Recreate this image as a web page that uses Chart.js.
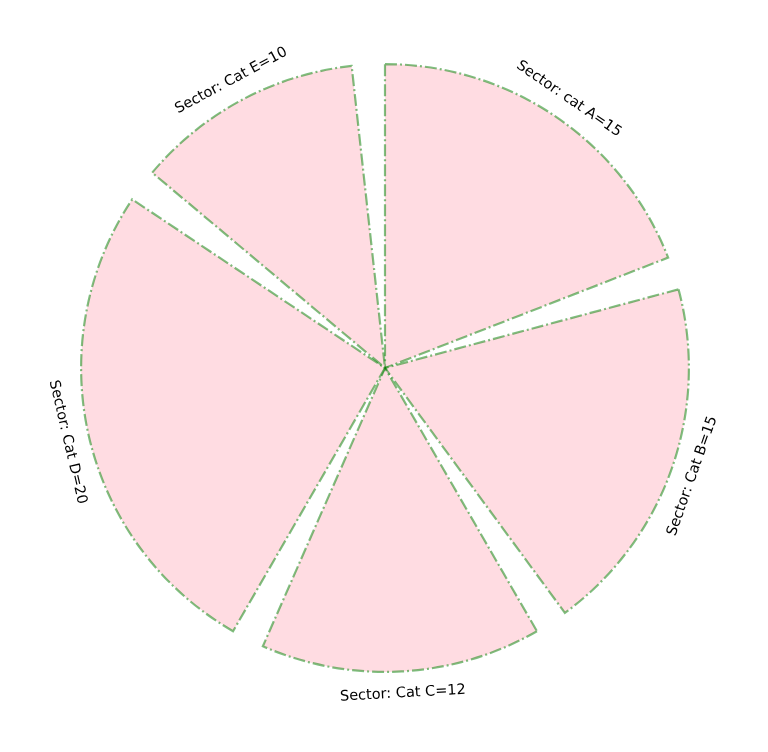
<!DOCTYPE html>
<html>
<head>
<meta charset="utf-8">
<script src="https://cdn.jsdelivr.net/npm/chart.js@4/dist/chart.umd.min.js"></script>
<style>
  html, body { margin: 0; padding: 0; background: #fff; }
  #wrap { width: 768px; height: 752px; position: relative; }
</style>
</head>
<body>
<div id="wrap"><canvas id="pieChart"></canvas></div>
<script>
// chart data
const categories = ['cat A', 'Cat B', 'Cat C', 'Cat D', 'Cat E'];
const values = [15, 15, 12, 20, 10];

const gapAngle = 6.3 * Math.PI / 180;

// shorten each wedge at its trailing end so the gaps open out from the centre
const trimWedges = {
    id: 'trimWedges',
    afterDatasetsUpdate(chart) {
        chart.getDatasetMeta(0).data.forEach(arc => {
            arc.endAngle -= gapAngle;
            arc.circumference -= gapAngle;
        });
    }
};

// rotated labels outside each wedge, following the rim
const wedgeLabels = {
    id: 'wedgeLabels',
    afterDatasetsDraw(chart) {
        const ctx = chart.ctx;
        chart.getDatasetMeta(0).data.forEach((arc, i) => {
            const mid = (arc.startAngle + arc.endAngle) / 2;
            const r = arc.outerRadius + 22;
            const x = arc.x + Math.cos(mid) * r;
            const y = arc.y + Math.sin(mid) * r;
            let rot = mid + Math.PI / 2;
            while (rot > Math.PI) rot -= 2 * Math.PI;
            while (rot < -Math.PI) rot += 2 * Math.PI;
            if (rot > Math.PI / 2 || rot < -Math.PI / 2) rot += Math.PI;
            ctx.save();
            ctx.translate(x, y);
            ctx.rotate(rot);
            ctx.font = '14.5px "DejaVu Sans"';
            ctx.fillStyle = '#000';
            ctx.textAlign = 'center';
            ctx.textBaseline = 'middle';
            ctx.fillText('Sector: ' + categories[i] + '=' + values[i], 0, 0);
            ctx.restore();
        });
    }
};

new Chart(document.getElementById('pieChart'), {
    type: 'pie',
    data: {
        labels: categories,
        datasets: [{
            data: values,
            backgroundColor: 'rgba(255, 192, 203, 0.55)',
            borderColor: 'rgba(0, 128, 0, 0.5)',
            borderWidth: 2.2,
            borderDash: [12, 3, 2, 3],
            borderJoinStyle: 'miter'
        }]
    },
    options: {
        responsive: true,
        maintainAspectRatio: false,
        animation: false,
        events: [],
        layout: { padding: { left: 80, right: 78, top: 63, bottom: 79 } },
        plugins: {
            legend: { display: false },
            tooltip: { enabled: false }
        }
    },
    plugins: [trimWedges, wedgeLabels]
});
</script>
</body>
</html>
